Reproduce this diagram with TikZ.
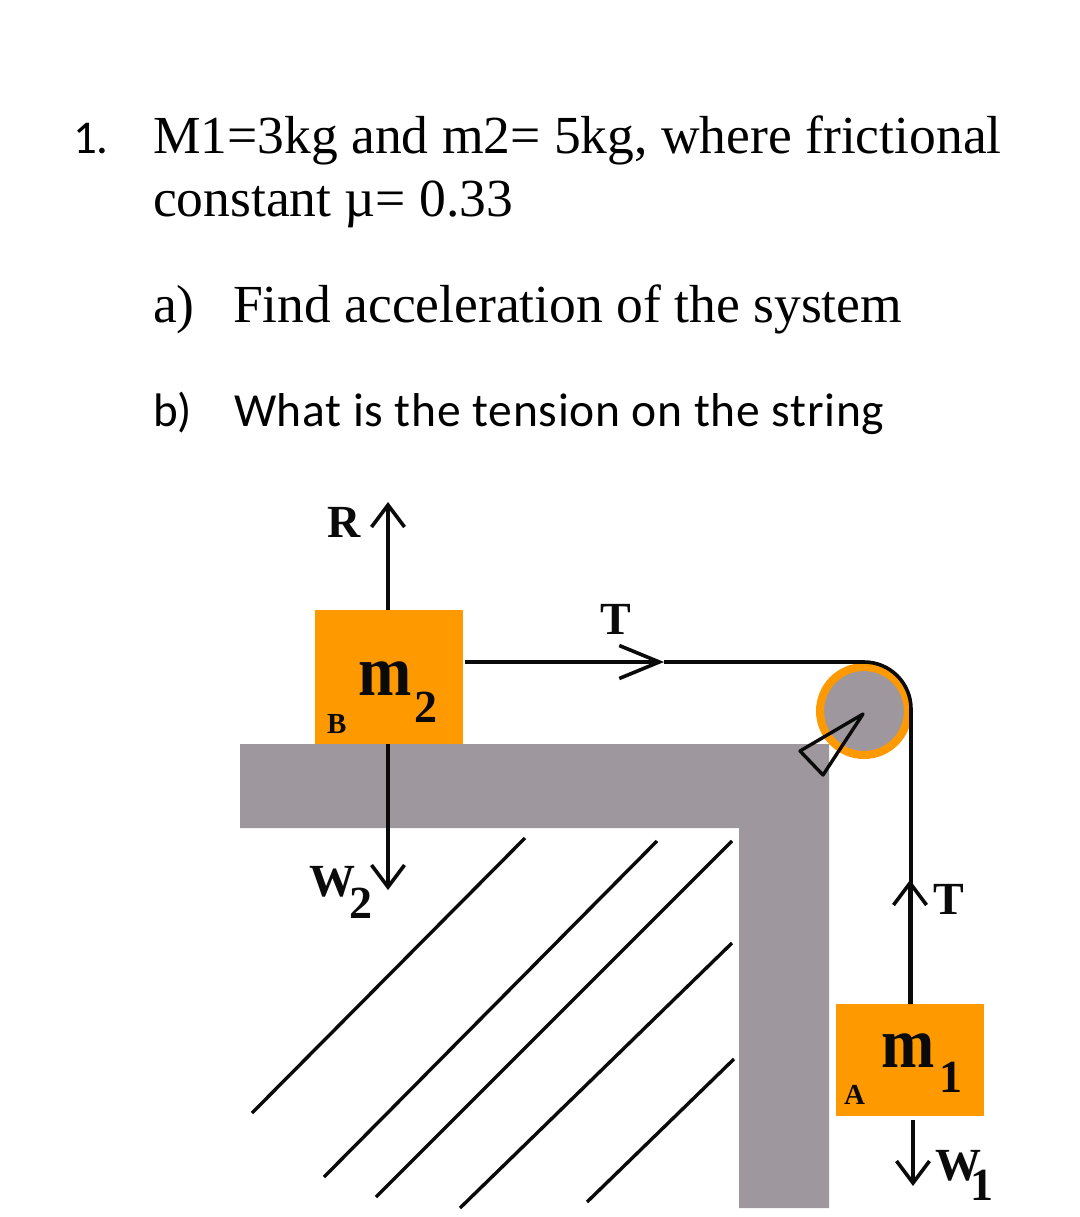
\documentclass[tikz,border=0pt]{standalone}
\usepackage{fontspec}
\usepackage{graphicx}
\setmainfont{Liberation Serif}
\newfontfamily\carlitofont{Carlito}
\newfontfamily\carlitowide[LetterSpace=1.6]{Carlito}
\usetikzlibrary{arrows.meta}
\definecolor{wallgray}{HTML}{9E989E}
\definecolor{blockorange}{HTML}{FF9900}
\definecolor{inkblack}{HTML}{0A0A0A}
\tikzset{
  x=1pt,y=-1pt,
  txt/.style={anchor=base west,inner sep=0pt,outer sep=0pt,text=black},
  serifline/.style={txt,font=\fontsize{53.55}{54}\selectfont},
  calline/.style={txt,font=\carlitofont\fontsize{47}{47}\selectfont},
  callinewide/.style={txt,font=\carlitowide\fontsize{47.5}{47}\selectfont},
  lab/.style={inner sep=0pt,outer sep=0pt,anchor=base west,text=inkblack,font=\bfseries\fontsize{46}{46}\selectfont},
  sublab/.style={inner sep=0pt,outer sep=0pt,anchor=base west,text=inkblack,font=\bfseries\fontsize{46}{46}\selectfont},
  mass/.style={inner sep=0pt,outer sep=0pt,anchor=base west,text=inkblack,font=\bfseries\fontsize{64}{64}\selectfont},
  tinylab/.style={inner sep=0pt,outer sep=0pt,anchor=base west,text=inkblack,font=\bfseries\fontsize{29}{29}\selectfont},
  block/.style={fill=blockorange,draw=none,inner sep=0pt,outer sep=0pt,minimum width=148pt},
  rope/.style={draw=inkblack,line width=3.6pt},
  force/.style={rope,-{Straight Barb[length=22pt,width=33pt,line width=3.6pt]}},
  longforce/.style={rope,-{Straight Barb[length=40pt,width=33pt,line width=3.6pt]}},
  hatch/.style={draw=inkblack,line width=3.4pt}
}
\begin{document}
\begin{tikzpicture}
\useasboundingbox (0,0) rectangle (1079,1217);
\fill[white] (0,0) rectangle (1079,1217);
% text
\node[calline] (num) at (73,154) {1.};
\node[serifline] (l1) at (153,154) {M1=3kg and m2= 5kg, where frictional};
\node[serifline] (l2) at (153,216) {constant µ= 0.33};
\node[serifline] (a) at (153,322) {a)};
\node[serifline] (at) at (233,322) {Find acceleration of the system};
\node[calline] (b) at (153,426) {b)};
\node[callinewide] (bt) at (234,426) {What is the tension on the string};
% wall
\fill[wallgray] (240,744) -- (829,744) -- (829,1208) -- (739,1208) -- (739,828) -- (240,828) -- cycle;
% hatch
\draw[hatch] (252,1113) -- (525,838);
\draw[hatch] (324,1177) -- (657,841);
\draw[hatch] (376,1197) -- (732,841);
\draw[hatch] (460,1208) -- (732,943);
\draw[hatch] (587,1202) -- (734,1059);
% pulley
\node[circle,fill=wallgray,draw=blockorange,line width=8pt,minimum size=88pt,inner sep=0pt] (pulley) at (864,711) {};
\coordinate (axle) at (863,714);
\coordinate (brL) at (800,751);
\coordinate (brR) at (823,775);
\draw[draw=inkblack,line width=3.4pt,line join=round] (axle) -- (brL) -- (brR) -- cycle;
% blocks
\node[block,minimum height=134pt] (m2b) at (389,677) {};
\node[block,minimum height=112pt] (m1b) at (910,1060) {};
% forces and rope
\coordinate (Rtip) at (388,502);
\coordinate (W2base) at (388,744);
\coordinate (W2tip) at (388,890);
\coordinate (W1start) at (913,1120);
\coordinate (W1tip) at (913,1186);
\coordinate (Tstart) at (465,662);
\coordinate (Tmid) at (664,662);
\coordinate (Ttop) at (864,662);
\coordinate (Tvert) at (910,880);
\draw[force] (m2b.north -| Rtip) -- (Rtip);
\draw[force] (W2base) -- (W2tip);
\draw[force] (W1start) -- (W1tip);
\draw[longforce] (Tstart) -- (Tmid);
\draw[rope] (Tmid) -- (Ttop) arc[start angle=-90,end angle=0,radius=47] -- (m1b.north -| 911,0);
\draw[force] (m1b.north) -- (Tvert);
% labels
\node[lab] (R) at (327,537) {R};
\node[lab] (T1) at (600,634) {T};
\node[lab] (T2) at (933,914) {T};
\node[lab] (W2) at (309,896) {W};
\node[sublab] (W2s) at (349,918) {2};
\node[lab] (W1) at (935,1180) {W};
\node[sublab] (W1s) at (970,1200) {1};
\node[mass] (m2) at (358,695) {\scalebox{1}[1.12]{m}};
\node[sublab] (m2s) at (414,722) {2};
\node[mass] (m1) at (881,1067) {\scalebox{1}[1.12]{m}};
\node[sublab] (m1s) at (939,1092) {1};
\node[tinylab] (B) at (327,733) {B};
\node[tinylab] (A) at (844,1104) {A};
\end{tikzpicture}
\end{document}
